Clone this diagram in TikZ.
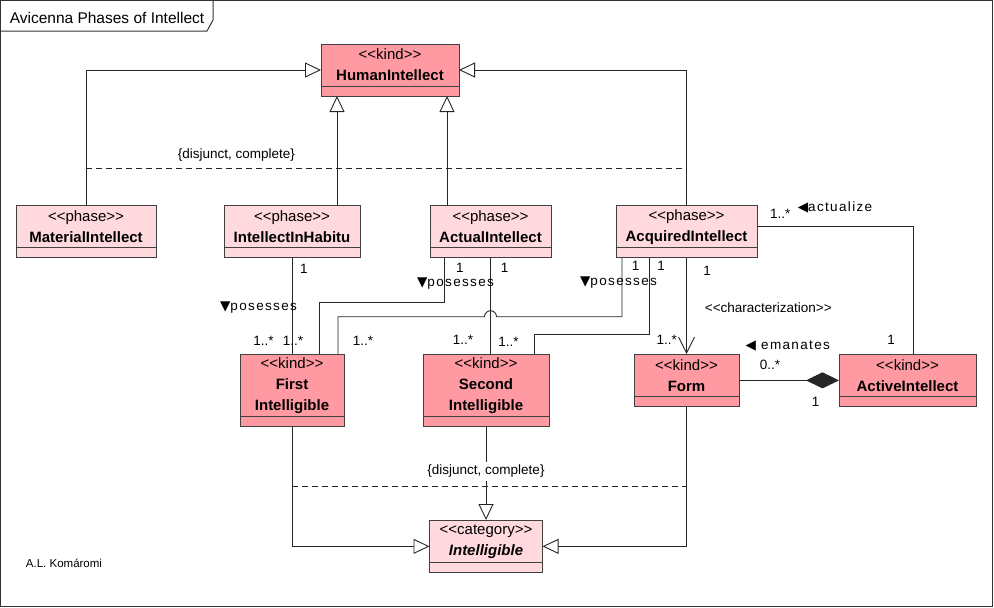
\documentclass[tikz,border=0pt]{standalone}
\usepackage{fontspec}
\setmainfont{Liberation Sans}[Ligatures=TeXOff]
\newfontfamily\symfont{DejaVu Sans}
\newfontfamily\spacedfont{Liberation Sans}[LetterSpace=10]
\usepackage{tikz}
\usetikzlibrary{arrows.meta, positioning}
\definecolor{kindred}{HTML}{FF9AA2}
\definecolor{phasepink}{HTML}{FFD9DD}
\newcommand\clsfont{\fontsize{15}{21}\selectfont}
\newcommand\lblfont{\fontsize{13.5}{16}\selectfont}
\newcommand\downtri{{\symfont ▼}}
\newcommand\lefttri{{\symfont ◀}}
\tikzset{
  kindbox/.style={draw=black!75, fill=kindred, line width=1pt, outer sep=0pt,
                  inner sep=0pt, align=center, font=\clsfont},
  phasebox/.style={kindbox, fill=phasepink},
  attr/.style={draw=black!75, line width=1pt, outer sep=0pt, inner sep=0pt,
               minimum height=10pt},
  gen/.style={draw=black!85, line width=0.9pt,
              -{Triangle[fill=white, length=16pt, width=15pt]}},       % generalization
  assoc/.style={draw=black!85, line width=0.9pt},                      % association
  charc/.style={assoc, -{Straight Barb[length=16pt, width=16pt]}},     % characterization
  comp/.style={assoc, -{Diamond[length=33pt, width=16pt]}},            % composition
  gset/.style={draw=black!85, line width=0.9pt, dash pattern=on 6pt off 4pt},
  mult/.style={font=\lblfont, inner sep=0pt},
  rel/.style={font=\lblfont\spacedfont, inner sep=0pt},
}

\begin{document}
\begin{tikzpicture}[x=1pt, y=-1pt]
  \useasboundingbox (0,0) rectangle (994,608);
  % frame and title tab
  \draw[black!80, line width=1.2pt] (0.5,0.5) rectangle (992.5,606.5);
  \draw[black!80, line width=1pt] (0.5,31) -- (207,31) -- (213,20) -- (213,0.5);
  \node[font=\fontsize{15.5}{18}\selectfont, inner sep=0pt] (title) at (107,17.5)
    {Avicenna Phases of Intellect};

  % classes
  \node[kindbox, minimum width=138pt, minimum height=42pt] (human) at (390,65)
    {<<kind>>\\\textbf{HumanIntellect}};
  \node[attr, fill=kindred, minimum width=138pt, below=0pt of human] (human-a) {};

  \node[phasebox, minimum width=140pt, minimum height=42pt] (material) at (86,226.7)
    {<<phase>>\\\textbf{MaterialIntellect}};
  \node[attr, fill=phasepink, minimum width=140pt, below=0pt of material] (material-a) {};
  \node[phasebox, minimum width=136pt, minimum height=42pt] (habitu) at (292,226.7)
    {<<phase>>\\\textbf{IntellectInHabitu}};
  \node[attr, fill=phasepink, minimum width=136pt, below=0pt of habitu] (habitu-a) {};
  \node[phasebox, minimum width=121pt, minimum height=42pt] (actual) at (490.5,226.7)
    {<<phase>>\\\textbf{ActualIntellect}};
  \node[attr, fill=phasepink, minimum width=121pt, below=0pt of actual] (actual-a) {};
  \node[phasebox, minimum width=141pt, minimum height=42pt] (acq) at (686.5,226.7)
    {<<phase>>\\\textbf{AcquiredIntellect}};
  \node[attr, fill=phasepink, minimum width=141pt, below=0pt of acq] (acq-a) {};

  \node[kindbox, minimum width=104pt, minimum height=62.7pt] (first) at (292,385.35)
    {<<kind>>\\\textbf{First}\\\textbf{Intelligible}};
  \node[attr, fill=kindred, minimum width=104pt, below=0pt of first] (first-a) {};
  \node[kindbox, minimum width=126pt, minimum height=62.7pt] (second) at (486,385.35)
    {<<kind>>\\\textbf{Second}\\\textbf{Intelligible}};
  \node[attr, fill=kindred, minimum width=126pt, below=0pt of second] (second-a) {};
  \node[kindbox, minimum width=105pt, minimum height=42.7pt] (form) at (686.5,375.35)
    {<<kind>>\\\textbf{Form}};
  \node[attr, fill=kindred, minimum width=105pt, below=0pt of form] (form-a) {};
  \node[kindbox, minimum width=137pt, minimum height=42.7pt] (active) at (907.5,375.35)
    {<<kind>>\\\textbf{ActiveIntellect}};
  \node[attr, fill=kindred, minimum width=137pt, below=0pt of active] (active-a) {};

  \node[phasebox, minimum width=113pt, minimum height=42.7pt] (intel) at (486,541.35)
    {<<category>>\\\textbf{\textit{Intelligible}}};
  \node[attr, fill=phasepink, minimum width=113pt, below=0pt of intel] (intel-a) {};

  % generalizations
  \draw[gen] (material.north) |- ([yshift=-5pt]human.west);
  \draw[gen] (acq.north) |- ([yshift=-5pt]human.east);
  \draw[gen] ([xshift=45pt]habitu.north) -- ([xshift=-53pt]human-a.south);
  \draw[gen] ([xshift=-43.5pt]actual.north) -- ([xshift=57pt]human-a.south);
  \draw[gset] (material.north |- 0,168) -- (acq.north |- 0,168);
  \draw[gen] (first-a.south) |- ([yshift=-5pt]intel.west);
  \draw[gen] (form-a.south) |- ([yshift=-5pt]intel.east);
  \draw[gen] (second-a.south) -- (intel.north);
  \draw[gset] (first-a.south |- 0,486) -- (form-a.south |- 0,486);
  \node[mult] (gs1) at (236.3,154.7) {\{disjunct, complete\}};
  \node[mult, fill=white, inner xsep=2pt, inner ysep=3pt] (gs2) at (486,471.5)
    {\{disjunct, complete\}};

  % associations
  \draw[assoc] (habitu-a.south) -- (first.north);
  \draw[assoc] ([xshift=-46.5pt]actual-a.south) -- ++(0,44.7) -| ([xshift=27pt]first.north);
  \draw[assoc] (actual-a.south) -- (actual-a.south |- second.north);
  \draw[assoc] ([xshift=-64.5pt]acq-a.south) -- ++(0,59) -- (496.5,316.7)
    arc[start angle=0, end angle=180, radius=6pt] -| ([xshift=46pt]first.north);
  \draw[assoc] ([xshift=-37.5pt]acq-a.south) -- ++(0,76.6) -| ([xshift=48pt]second.north);
  \draw[charc] (acq-a.south) -- (form.north);
  \draw[assoc] (acq.east) -| ([xshift=6pt]active.north);
  \draw[comp] ([yshift=-5pt]form.east) -- ([yshift=-5pt]active.west);

  % multiplicities
  \foreach \t/\x/\y [count=\i] in {1/304/269, {1..*}/263.5/340.5, {1..*}/293/340.5,
      {1..*}/363/340.5, 1/460/268, 1/504.5/268, {1..*}/463/340, {1..*}/508.5/342,
      1/635.5/265.5, 1/661/265.5, 1/707/271, {1..*}/666.7/339.5, {1..*}/780.3/214,
      1/891/340, {0..*}/770/365, 1/815.5/402}
    \node[mult] (mu\i) at (\x,\y) {\t};

  % association names
  \node[rel] (pos1) at (258.5,308) {\downtri posesses};
  \node[rel] (pos2) at (455.5,283.5) {\downtri posesses};
  \node[rel] (pos3) at (618.5,283) {\downtri posesses};
  \node[rel] (act) at (835,207.5) {\lefttri actualize};
  \node[rel] (ema) at (787.8,346) {\lefttri\ emanates};
  \node[mult] (chz) at (768.3,307.7) {<<characterization>>};

  \node[font=\fontsize{11.5}{13}\selectfont, inner sep=0pt] (author) at (64,563)
    {A.L. Komáromi};
\end{tikzpicture}
\end{document}
